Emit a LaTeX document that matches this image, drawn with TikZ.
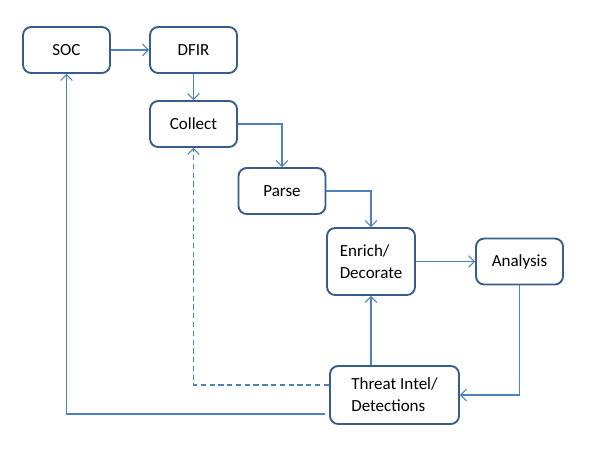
\documentclass[tikz,border=0pt]{standalone}
\usepackage{fontspec}
\setmainfont{Carlito}
\definecolor{boxblue}{RGB}{56, 93, 138}
\definecolor{lineblue}{RGB}{79, 129, 189}
\usepackage{tikz}
\usetikzlibrary{arrows.meta, positioning, calc}

\begin{document}
\begin{tikzpicture}[
  x=0.03cm, y=-0.03cm,
  box/.style={draw=boxblue, line width=1.6pt, rounded corners=7pt, minimum width=2.61cm, minimum height=1.38cm, inner sep=3pt, font=\fontsize{14.5}{19}\selectfont, fill=white},
  arr/.style={-{Straight Barb[length=5pt, width=10pt]}, lineblue, line width=0.9pt}
]
  \useasboundingbox (0, 0) rectangle (592, 467);

  \node[box] (soc) at (66.5, 50) {SOC};
  \node[box] (dfir) at (193.5, 50) {DFIR};
  \node[box] (collect) at (193.5, 124) {Collect};
  \node[box] (parse) at (282, 191) {Parse};
  \node[box, minimum width=2.64cm, minimum height=2.01cm, align=left] (enrich) at (371, 261.5) {Enrich/\\Decorate};
  \node[box] (analysis) at (519.5, 261.5) {Analysis};
  \node[box, minimum width=3.87cm, minimum height=1.74cm, align=left] (threat) at (394.5, 395) {Threat Intel/\\Detections};

  \draw[arr] (soc) -- (dfir);
  \draw[arr] (dfir) -- (collect);
  \draw[arr] (collect.east) -| (parse.north);
  \draw[arr] (parse.east) -| (enrich.north);
  \draw[arr] (enrich) -- (analysis);
  \draw[arr] (analysis.south) |- (threat.east);
  \draw[arr] (threat.north -| enrich.south) -- (enrich.south);

  % feedback paths
  \draw[arr, dash pattern=on 4.5pt off 3pt] ($(threat.west)+(0, -10)$) -| (collect.south);
  \draw[arr] ($(threat.west)+(-4, 19)$) -| (soc.south);
\end{tikzpicture}
\end{document}
